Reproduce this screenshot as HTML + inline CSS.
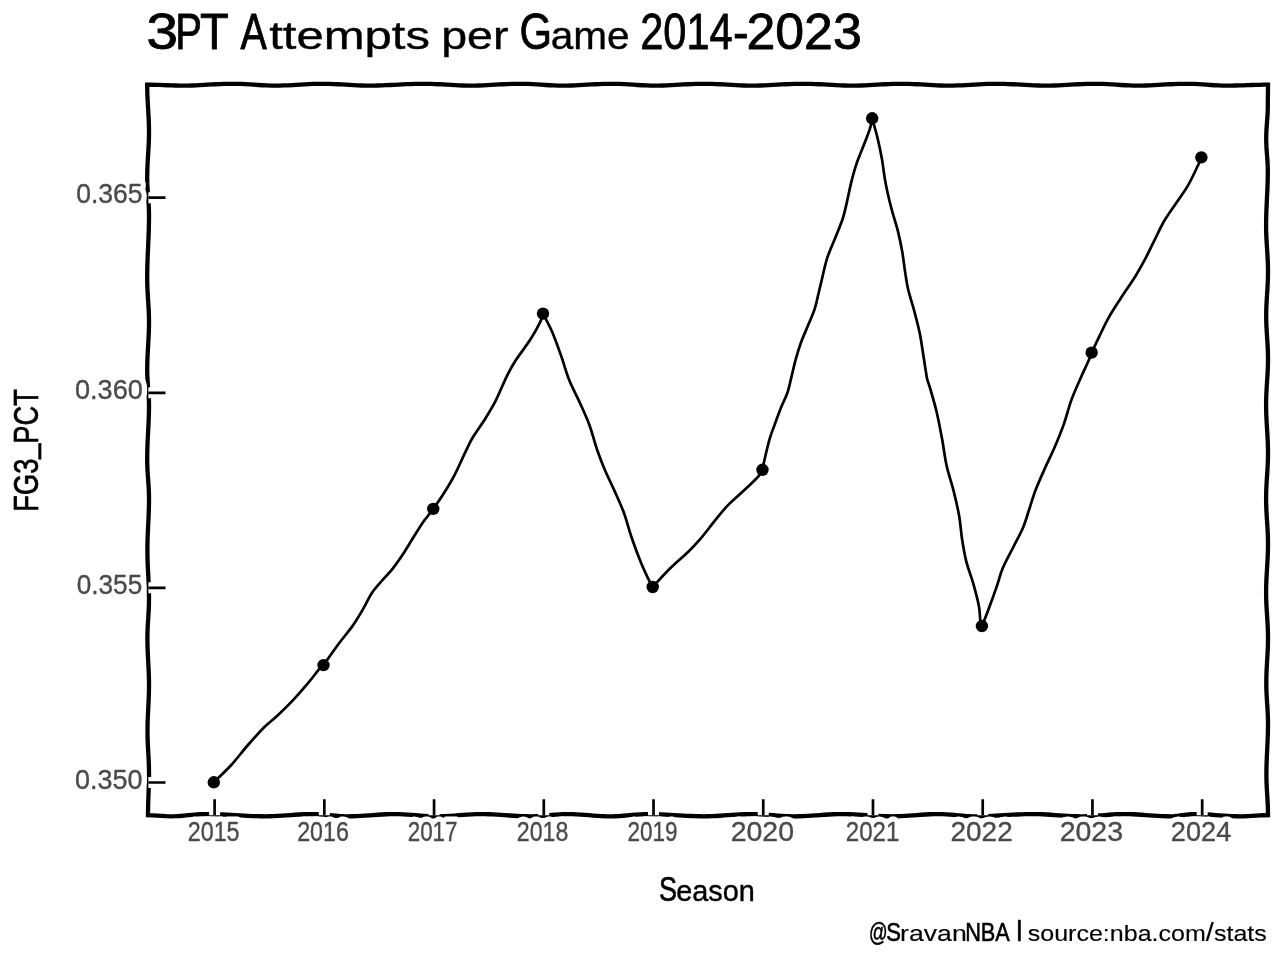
<!DOCTYPE html>
<html><head><meta charset="utf-8"><title>3PT Attempts per Game 2014-2023</title>
<style>
html,body{margin:0;padding:0;background:#fff;width:1280px;height:960px;overflow:hidden}
svg{display:block;font-family:"Liberation Sans", sans-serif}
</style></head><body>
<svg width="1280" height="960" viewBox="0 0 1280 960">
<rect width="1280" height="960" fill="#fff"/>
<path d="M147.2,84.7 151.26,84.73 155.32,84.81 159.38,84.92 163.44,85.07 167.51,85.23 171.57,85.38 175.63,85.49 179.69,85.57 183.75,85.6 187.77,85.57 191.79,85.48 195.81,85.34 199.83,85.15 203.85,84.93 207.88,84.7 211.9,84.47 215.92,84.25 219.94,84.06 223.96,83.92 227.98,83.83 232,83.8 236.36,83.84 240.72,83.97 245.08,84.17 249.44,84.42 253.8,84.7 258.16,84.98 262.52,85.23 266.88,85.43 271.24,85.56 275.6,85.6 279.78,85.56 283.96,85.46 288.15,85.29 292.33,85.07 296.51,84.83 300.69,84.57 304.87,84.33 309.05,84.11 313.24,83.94 317.42,83.84 321.6,83.8 325.61,83.83 329.62,83.92 333.62,84.06 337.63,84.25 341.64,84.47 345.65,84.7 349.66,84.93 353.67,85.15 357.68,85.34 361.68,85.48 365.69,85.57 369.7,85.6 373.8,85.57 377.9,85.5 382,85.37 386.1,85.21 390.2,85.02 394.3,84.81 398.4,84.59 402.5,84.38 406.6,84.19 410.7,84.03 414.8,83.9 418.9,83.83 423,83.8 427,83.83 431,83.92 435,84.06 439,84.25 443,84.47 447,84.7 451,84.93 455,85.15 459,85.34 463,85.48 467,85.57 471,85.6 475.03,85.57 479.07,85.48 483.1,85.34 487.13,85.15 491.17,84.93 495.2,84.7 499.23,84.47 503.27,84.25 507.3,84.06 511.33,83.92 515.37,83.83 519.4,83.8 523.76,83.84 528.12,83.97 532.48,84.17 536.84,84.42 541.2,84.7 545.56,84.98 549.92,85.23 554.28,85.43 558.64,85.56 563,85.6 567.02,85.57 571.05,85.48 575.08,85.34 579.1,85.15 583.12,84.93 587.15,84.7 591.17,84.47 595.2,84.25 599.22,84.06 603.25,83.92 607.27,83.83 611.3,83.8 615.67,83.84 620.04,83.97 624.41,84.17 628.78,84.42 633.15,84.7 637.52,84.98 641.89,85.23 646.26,85.43 650.63,85.56 655,85.6 659.08,85.57 663.17,85.48 667.25,85.34 671.33,85.15 675.42,84.93 679.5,84.7 683.58,84.47 687.67,84.25 691.75,84.06 695.83,83.92 699.92,83.83 704,83.8 708,83.83 712,83.92 716,84.06 720,84.25 724,84.47 728,84.7 732,84.93 736,85.15 740,85.34 744,85.48 748,85.57 752,85.6 756.21,85.57 760.42,85.48 764.62,85.34 768.83,85.15 773.04,84.93 777.25,84.7 781.46,84.47 785.67,84.25 789.88,84.06 794.08,83.92 798.29,83.83 802.5,83.8 806.71,83.83 810.92,83.92 815.12,84.06 819.33,84.25 823.54,84.47 827.75,84.7 831.96,84.93 836.17,85.15 840.38,85.34 844.58,85.48 848.79,85.57 853,85.6 857,85.57 861,85.48 865,85.34 869,85.15 873,84.93 877,84.7 881,84.47 885,84.25 889,84.06 893,83.92 897,83.83 901,83.8 905,83.83 909,83.92 913,84.06 917,84.25 921,84.47 925,84.7 929,84.93 933,85.15 937,85.34 941,85.48 945,85.57 949,85.6 953.25,85.56 957.49,85.46 961.74,85.29 965.98,85.07 970.23,84.83 974.47,84.57 978.72,84.33 982.96,84.11 987.21,83.94 991.45,83.84 995.7,83.8 999.93,83.83 1004.17,83.92 1008.4,84.06 1012.63,84.25 1016.87,84.47 1021.1,84.7 1025.33,84.93 1029.57,85.15 1033.8,85.34 1038.03,85.48 1042.27,85.57 1046.5,85.6 1050.52,85.57 1054.53,85.48 1058.55,85.34 1062.57,85.15 1066.58,84.93 1070.6,84.7 1074.62,84.47 1078.63,84.25 1082.65,84.06 1086.67,83.92 1090.68,83.83 1094.7,83.8 1099.03,83.84 1103.36,83.97 1107.69,84.17 1112.02,84.42 1116.35,84.7 1120.68,84.98 1125.01,85.23 1129.34,85.43 1133.67,85.56 1138,85.6 1142,85.57 1146,85.48 1150,85.34 1154,85.15 1158,84.93 1162,84.7 1166,84.47 1170,84.25 1174,84.06 1178,83.92 1182,83.83 1186,83.8 1190.1,83.84 1194.2,83.97 1198.3,84.17 1202.4,84.42 1206.5,84.7 1210.6,84.98 1214.7,85.23 1218.8,85.43 1222.9,85.56 1227,85.6 1231.1,85.58 1235.2,85.51 1239.3,85.41 1243.4,85.29 1247.5,85.15 1251.6,85.01 1255.7,84.89 1259.8,84.79 1263.9,84.72 1268,84.7 L1267.98,88.96 1267.93,93.22 1267.87,97.48 1267.82,101.74 1267.8,106 1267.74,110.08 1267.57,114.15 1267.31,118.22 1267,122.3 1266.69,126.38 1266.43,130.45 1266.26,134.53 1266.2,138.6 1266.26,142.65 1266.43,146.7 1266.69,150.75 1267,154.8 1267.31,158.85 1267.57,162.9 1267.74,166.95 1267.8,171 1267.78,175.23 1267.7,179.46 1267.59,183.69 1267.43,187.92 1267.25,192.15 1267.05,196.38 1266.85,200.62 1266.65,204.85 1266.47,209.08 1266.31,213.31 1266.2,217.54 1266.12,221.77 1266.1,226 1266.14,230.15 1266.25,234.29 1266.43,238.44 1266.66,242.58 1266.91,246.73 1267.19,250.87 1267.44,255.02 1267.67,259.16 1267.85,263.31 1267.96,267.45 1268,271.6 1267.96,275.64 1267.86,279.67 1267.69,283.71 1267.47,287.75 1267.23,291.78 1266.97,295.82 1266.73,299.85 1266.51,303.89 1266.34,307.93 1266.24,311.96 1266.2,316 1266.24,320.3 1266.37,324.6 1266.57,328.9 1266.82,333.2 1267.1,337.5 1267.38,341.8 1267.63,346.1 1267.83,350.4 1267.96,354.7 1268,359 1267.96,363.15 1267.85,367.29 1267.67,371.44 1267.44,375.58 1267.19,379.73 1266.91,383.87 1266.66,388.02 1266.43,392.16 1266.25,396.31 1266.14,400.45 1266.1,404.6 1266.13,408.63 1266.23,412.67 1266.38,416.7 1266.57,420.73 1266.8,424.77 1267.05,428.8 1267.3,432.83 1267.52,436.87 1267.72,440.9 1267.87,444.93 1267.97,448.97 1268,453 1267.96,457.15 1267.85,461.29 1267.67,465.44 1267.44,469.58 1267.19,473.73 1266.91,477.87 1266.66,482.02 1266.43,486.16 1266.25,490.31 1266.14,494.45 1266.1,498.6 1266.14,502.73 1266.25,506.85 1266.43,510.98 1266.66,515.11 1266.91,519.24 1267.19,523.36 1267.44,527.49 1267.67,531.62 1267.85,535.75 1267.96,539.87 1268,544 1267.97,548.05 1267.87,552.1 1267.72,556.15 1267.53,560.2 1267.3,564.25 1267.05,568.3 1266.8,572.35 1266.58,576.4 1266.38,580.45 1266.23,584.5 1266.13,588.55 1266.1,592.6 1266.14,596.73 1266.25,600.85 1266.43,604.98 1266.66,609.11 1266.91,613.24 1267.19,617.36 1267.44,621.49 1267.67,625.62 1267.85,629.75 1267.96,633.87 1268,638 1267.97,642.09 1267.87,646.18 1267.71,650.27 1267.5,654.36 1267.27,658.45 1267.03,662.55 1266.8,666.64 1266.59,670.73 1266.43,674.82 1266.33,678.91 1266.3,683 1266.34,687.08 1266.46,691.15 1266.65,695.23 1266.89,699.3 1267.15,703.38 1267.41,707.45 1267.65,711.52 1267.84,715.6 1267.96,719.67 1268,723.75 1267.97,728 1267.89,732.26 1267.77,736.51 1267.6,740.77 1267.41,745.02 1267.2,749.27 1266.99,753.53 1266.8,757.78 1266.63,762.04 1266.51,766.29 1266.43,770.55 1266.4,774.8 1266.44,778.84 1266.55,782.88 1266.73,786.92 1266.95,790.96 1267.2,795 1267.45,799.04 1267.67,803.08 1267.85,807.12 1267.96,811.16 1268,815.2 L1264,815.25 1260,815.41 1256,815.63 1252,815.87 1248,816.09 1244,816.25 1240,816.3 1235.91,816.26 1231.82,816.13 1227.73,815.92 1223.64,815.66 1219.55,815.36 1215.45,815.04 1211.36,814.74 1207.27,814.48 1203.18,814.27 1199.09,814.14 1195,814.1 1190.83,814.25 1186.67,814.65 1182.5,815.2 1178.33,815.75 1174.17,816.15 1170,816.3 1165.91,816.26 1161.82,816.13 1157.73,815.92 1153.64,815.66 1149.55,815.36 1145.45,815.04 1141.36,814.74 1137.27,814.48 1133.18,814.27 1129.09,814.14 1125,814.1 1120.96,814.14 1116.93,814.27 1112.89,814.48 1108.85,814.74 1104.82,815.04 1100.78,815.36 1096.75,815.66 1092.71,815.92 1088.67,816.13 1084.64,816.26 1080.6,816.3 1076.34,816.26 1072.08,816.13 1067.82,815.92 1063.56,815.66 1059.3,815.36 1055.05,815.04 1050.79,814.74 1046.53,814.48 1042.27,814.27 1038.01,814.14 1033.75,814.1 1029.55,814.13 1025.36,814.21 1021.16,814.34 1016.96,814.51 1012.77,814.72 1008.57,814.96 1004.38,815.2 1000.18,815.44 995.98,815.68 991.79,815.89 987.59,816.06 983.39,816.19 979.2,816.27 975,816.3 970.89,816.23 966.78,816.04 962.67,815.75 958.56,815.39 954.44,815.01 950.33,814.65 946.22,814.36 942.11,814.17 938,814.1 933.82,814.14 929.64,814.27 925.45,814.48 921.27,814.74 917.09,815.04 912.91,815.36 908.73,815.66 904.55,815.92 900.36,816.13 896.18,816.26 892,816.3 887.8,816.26 883.6,816.15 879.4,815.98 875.2,815.75 871,815.48 866.8,815.2 862.6,814.92 858.4,814.65 854.2,814.42 850,814.25 845.8,814.14 841.6,814.1 837.34,814.14 833.07,814.27 828.81,814.48 824.55,814.74 820.28,815.04 816.02,815.36 811.75,815.66 807.49,815.92 803.23,816.13 798.96,816.26 794.7,816.3 790.43,816.25 786.16,816.09 781.89,815.85 777.62,815.54 773.35,815.2 769.08,814.86 764.81,814.55 760.54,814.31 756.27,814.15 752,814.1 748,814.14 744,814.25 740,814.42 736,814.65 732,814.92 728,815.2 724,815.48 720,815.75 716,815.98 712,816.15 708,816.26 704,816.3 699.77,816.27 695.54,816.17 691.31,816.02 687.08,815.82 682.85,815.59 678.62,815.33 674.38,815.07 670.15,814.81 665.92,814.58 661.69,814.38 657.46,814.23 653.23,814.13 649,814.1 644.67,814.17 640.33,814.36 636,814.65 631.67,815.01 627.33,815.39 623,815.75 618.67,816.04 614.33,816.23 610,816.3 605.8,816.25 601.6,816.09 597.4,815.85 593.2,815.54 589,815.2 584.8,814.86 580.6,814.55 576.4,814.31 572.2,814.15 568,814.1 563.78,814.17 559.56,814.36 555.33,814.65 551.11,815.01 546.89,815.39 542.67,815.75 538.44,816.04 534.22,816.23 530,816.3 525.88,816.26 521.77,816.15 517.65,815.98 513.53,815.75 509.42,815.48 505.3,815.2 501.18,814.92 497.07,814.65 492.95,814.42 488.83,814.25 484.72,814.14 480.6,814.1 476.24,814.15 471.88,814.31 467.52,814.55 463.16,814.86 458.8,815.2 454.44,815.54 450.08,815.85 445.72,816.09 441.36,816.25 437,816.3 432.77,816.25 428.54,816.09 424.31,815.85 420.08,815.54 415.85,815.2 411.62,814.86 407.39,814.55 403.16,814.31 398.93,814.15 394.7,814.1 390.45,814.14 386.21,814.27 381.96,814.48 377.72,814.74 373.47,815.04 369.23,815.36 364.98,815.66 360.74,815.92 356.49,816.13 352.25,816.26 348,816.3 344,816.23 340,816.04 336,815.75 332,815.39 328,815.01 324,814.65 320,814.36 316,814.17 312,814.1 307.73,814.14 303.45,814.27 299.18,814.48 294.91,814.74 290.64,815.04 286.36,815.36 282.09,815.66 277.82,815.92 273.55,816.13 269.27,816.26 265,816.3 260.76,816.27 256.51,816.19 252.27,816.06 248.03,815.89 243.79,815.68 239.54,815.44 235.3,815.2 231.06,814.96 226.81,814.72 222.57,814.51 218.33,814.34 214.09,814.21 209.84,814.13 205.6,814.1 201.28,814.18 196.95,814.42 192.62,814.78 188.3,815.2 183.97,815.62 179.65,815.98 175.32,816.22 171,816.3 166.4,816.19 161.8,815.92 157.2,815.58 152.6,815.31 148,815.2 L148.02,810.98 148.1,806.76 148.21,802.54 148.35,798.32 148.5,794.1 148.65,789.88 148.79,785.66 148.9,781.44 148.98,777.22 149,773 148.96,768.8 148.86,764.6 148.69,760.4 148.48,756.2 148.25,752 148.02,747.8 147.81,743.6 147.64,739.4 147.54,735.2 147.5,731 147.53,726.82 147.62,722.64 147.76,718.45 147.94,714.27 148.14,710.09 148.36,705.91 148.56,701.73 148.74,697.55 148.88,693.36 148.97,689.18 149,685 148.97,680.73 148.87,676.45 148.72,672.18 148.53,667.91 148.31,663.64 148.09,659.36 147.87,655.09 147.68,650.82 147.53,646.55 147.43,642.27 147.4,638 147.45,633.67 147.59,629.33 147.8,625 148.06,620.67 148.34,616.33 148.6,612 148.81,607.67 148.95,603.33 149,599 148.97,594.92 148.89,590.83 148.77,586.75 148.6,582.67 148.41,578.58 148.2,574.5 147.99,570.42 147.8,566.33 147.63,562.25 147.51,558.17 147.43,554.08 147.4,550 147.43,545.75 147.51,541.5 147.63,537.25 147.8,533 147.99,528.75 148.2,524.5 148.41,520.25 148.6,516 148.77,511.75 148.89,507.5 148.97,503.25 149,499 148.96,495 148.83,491 148.63,487 148.38,483 148.1,479 147.82,475 147.57,471 147.37,467 147.24,463 147.2,459 147.23,454.85 147.3,450.69 147.43,446.54 147.59,442.38 147.78,438.23 147.99,434.08 148.21,429.92 148.42,425.77 148.61,421.62 148.77,417.46 148.9,413.31 148.97,409.15 149,405 148.93,400.62 148.74,396.25 148.44,391.88 148.1,387.5 147.76,383.12 147.46,378.75 147.27,374.38 147.2,370 147.23,366 147.32,362 147.46,358 147.65,354 147.87,350 148.1,346 148.33,342 148.55,338 148.74,334 148.88,330 148.97,326 149,322 148.96,318 148.86,314 148.69,310 148.47,306 148.23,302 147.97,298 147.73,294 147.51,290 147.34,286 147.24,282 147.2,278 147.22,273.8 147.28,269.6 147.37,265.4 147.5,261.2 147.65,257 147.82,252.8 148.01,248.6 148.19,244.4 148.38,240.2 148.55,236 148.7,231.8 148.83,227.6 148.92,223.4 148.98,219.2 149,215 148.95,210.89 148.79,206.78 148.55,202.67 148.26,198.56 147.94,194.44 147.65,190.33 147.41,186.22 147.25,182.11 147.2,178 147.24,173.82 147.34,169.64 147.51,165.45 147.73,161.27 147.97,157.09 148.23,152.91 148.47,148.73 148.69,144.55 148.86,140.36 148.96,136.18 149,132 148.96,127.7 148.86,123.4 148.69,119.1 148.47,114.8 148.23,110.5 147.97,106.2 147.73,101.9 147.51,97.6 147.34,93.3 147.24,89 147.2,84.7 Z" fill="none" stroke="#000" stroke-width="4.3" stroke-linejoin="miter"/>
<path d="M148.4,782.5 H165.5 M148.4,587.8 H165.5 M148.4,392.8 H165.5 M148.4,197.7 H165.5 M214.6,815.2 V799.3 M324.33,815.2 V799.3 M434.06,815.2 V799.3 M543.79,815.2 V799.3 M653.52,815.2 V799.3 M763.25,815.2 V799.3 M872.98,815.2 V799.3 M982.71,815.2 V799.3 M1092.44,815.2 V799.3 M1202.17,815.2 V799.3" fill="none" stroke="#fff" stroke-width="11" stroke-linecap="butt"/>
<path d="M148.4,782.5 H165.5 M148.4,587.8 H165.5 M148.4,392.8 H165.5 M148.4,197.7 H165.5 M214.6,815.2 V799.3 M324.33,815.2 V799.3 M434.06,815.2 V799.3 M543.79,815.2 V799.3 M653.52,815.2 V799.3 M763.25,815.2 V799.3 M872.98,815.2 V799.3 M982.71,815.2 V799.3 M1092.44,815.2 V799.3 M1202.17,815.2 V799.3" fill="none" stroke="#000" stroke-width="2.7" stroke-linecap="butt"/>
<path d="M213.8,782.3 C216.71,779.42 225.73,771.01 231.25,765 C236.77,758.99 241.69,752.25 246.9,746.25 C252.11,740.25 257.3,734.21 262.5,729 C267.7,723.79 272.89,719.93 278.1,715 C283.31,710.07 288.53,705 293.75,699.4 C298.97,693.8 305.23,686.35 309.4,681.4 C313.57,676.45 316.4,672.42 318.75,669.7 C321.1,666.98 322.71,665.87 323.5,665.1 C326.07,661.5 334.08,650 338.9,643.5 C343.72,637 348.53,631.57 352.4,626.1 C356.27,620.63 358.88,616.17 362.1,610.7 C365.32,605.23 368.82,597.8 371.7,593.3 C374.58,588.8 375.87,587.87 379.4,583.7 C382.93,579.53 389.03,573.12 392.9,568.3 C396.77,563.48 399.38,559.63 402.6,554.8 C405.82,549.97 409,544.45 412.2,539.3 C415.4,534.15 419.23,527.75 421.8,523.9 C424.37,520.05 425.7,518.7 427.6,516.2 C429.5,513.7 432.27,510.12 433.2,508.9 C434.82,506.55 439.37,500.4 442.9,494.8 C446.43,489.2 450.58,482.57 454.4,475.3 C458.22,468.03 462.75,457.5 465.8,451.2 C468.85,444.9 469.63,442.65 472.7,437.5 C475.77,432.35 480.38,426.42 484.2,420.3 C488.02,414.18 491.78,408.25 495.6,400.8 C499.42,393.35 503.67,382.47 507.1,375.6 C510.53,368.73 512.38,365.52 516.2,359.6 C520.02,353.68 525.98,346.4 530,340.1 C534.02,333.8 538.15,326.22 540.3,321.8 C542.45,317.38 542.47,314.97 542.9,313.6 C544.4,316.55 548.83,324.18 551.9,331.3 C554.97,338.42 558.43,348.23 561.3,356.3 C564.17,364.37 565.98,371.9 569.1,379.7 C572.22,387.5 576.62,395.55 580,403.1 C583.38,410.65 586.53,417.18 589.4,425 C592.27,432.82 594.6,442.45 597.2,450 C599.8,457.55 602.13,463.53 605,470.3 C607.87,477.07 611.27,483.57 614.4,490.6 C617.53,497.63 620.93,504.68 623.8,512.5 C626.67,520.32 628.75,529.17 631.6,537.5 C634.45,545.83 638.04,555.47 640.9,562.5 C643.76,569.53 646.78,575.62 648.75,579.7 C650.72,583.78 652.04,585.78 652.7,587 C655.62,583.88 664.27,574.18 670.2,568.3 C676.13,562.42 683.27,556.62 688.3,551.7 C693.33,546.78 696.87,542.83 700.4,538.8 C703.93,534.77 706.48,531.27 709.5,527.5 C712.52,523.73 715.48,519.85 718.5,516.2 C721.52,512.55 724.07,509.25 727.6,505.6 C731.13,501.95 735.92,497.82 739.7,494.3 C743.48,490.78 747.15,487.53 750.3,484.5 C753.45,481.47 756.58,478.55 758.6,476.1 C760.62,473.65 761.77,470.85 762.4,469.8 C762.93,467.33 764.37,460.25 765.6,455 C766.83,449.75 768.23,443.51 769.8,438.3 C771.37,433.09 773.09,428.95 775,423.75 C776.91,418.55 779.17,412.31 781.25,407.1 C783.33,401.89 785.76,397.72 787.5,392.5 C789.24,387.28 790.32,381.35 791.7,375.8 C793.08,370.25 794.25,364.75 795.8,359.2 C797.35,353.65 798.92,348.23 801,342.5 C803.08,336.77 806.03,330.35 808.3,324.8 C810.57,319.25 812.86,314.58 814.6,309.2 C816.34,303.82 817.53,297.5 818.75,292.5 C819.97,287.5 820.51,284.9 821.9,279.2 C823.29,273.5 824.85,265.25 827.1,258.3 C829.35,251.35 832.8,244.09 835.4,237.5 C838,230.91 840.78,224.65 842.7,218.75 C844.62,212.85 845.52,208.01 846.9,202.1 C848.28,196.19 849.44,189.55 851,183.3 C852.56,177.05 854.17,170.85 856.25,164.6 C858.33,158.35 861.24,151.7 863.5,145.8 C865.76,139.9 868.35,133.78 869.8,129.2 C871.25,124.62 871.8,120.12 872.2,118.3 C873.08,121.57 875.9,131.23 877.5,137.9 C879.1,144.57 880.58,151.52 881.8,158.3 C883.02,165.08 883.82,172.78 884.8,178.6 C885.78,184.42 886.5,187.85 887.7,193.2 C888.9,198.55 890.3,204.38 892,210.7 C893.7,217.02 896.2,224.3 897.9,231.1 C899.6,237.9 901,244.7 902.2,251.5 C903.4,258.3 904.12,265.6 905.1,271.9 C906.08,278.2 906.63,283 908.1,289.3 C909.57,295.6 911.97,302.42 913.9,309.7 C915.83,316.98 918.1,325.23 919.7,333 C921.3,340.77 922.28,348.77 923.5,356.3 C924.72,363.83 925.97,373.1 927,378.2 C928.03,383.3 928.08,381.23 929.7,386.9 C931.32,392.57 934.6,403.3 936.7,412.2 C938.8,421.1 940.65,431.4 942.3,440.3 C943.95,449.2 944.72,457.17 946.6,465.6 C948.48,474.03 951.5,482.47 953.6,490.9 C955.7,499.33 957.8,508.23 959.2,516.2 C960.6,524.17 960.83,531.2 962,538.7 C963.17,546.2 964.32,553.7 966.2,561.2 C968.08,568.7 971.18,576.2 973.3,583.7 C975.42,591.2 977.73,600.1 978.9,606.2 C980.07,612.3 979.78,616.98 980.3,620.3 C980.82,623.62 981.72,625.13 982,626.1 C983.12,623.21 986.32,615.28 988.75,608.75 C991.18,602.22 994.26,593.67 996.6,586.9 C998.94,580.12 999.94,574.88 1002.8,568.1 C1005.66,561.33 1010.37,553.02 1013.75,546.25 C1017.13,539.48 1020.49,533.75 1023.1,527.5 C1025.71,521.25 1027.32,515 1029.4,508.75 C1031.48,502.5 1033,496.77 1035.6,490 C1038.2,483.23 1041.87,475.13 1045,468.1 C1048.13,461.07 1051.28,455.08 1054.4,447.8 C1057.53,440.52 1060.88,432.47 1063.75,424.4 C1066.62,416.33 1068.74,407.22 1071.6,399.4 C1074.46,391.58 1078.04,384.02 1080.9,377.5 C1083.76,370.98 1086.95,364.45 1088.75,360.3 C1090.55,356.15 1091.21,353.88 1091.7,352.6 C1092.95,349.93 1096.35,342.47 1099.2,336.6 C1102.05,330.73 1105.2,323.8 1108.8,317.4 C1112.4,311 1116.42,304.98 1120.8,298.2 C1125.18,291.42 1131.12,283.08 1135.1,276.7 C1139.08,270.32 1141.5,265.9 1144.7,259.9 C1147.9,253.9 1151.1,247.1 1154.3,240.7 C1157.5,234.3 1160.3,227.7 1163.9,221.5 C1167.5,215.3 1171.9,209.48 1175.9,203.5 C1179.9,197.52 1184.3,191.78 1187.9,185.6 C1191.5,179.42 1195.25,171.12 1197.5,166.4 C1199.75,161.68 1200.75,158.82 1201.4,157.3" fill="none" stroke="#000" stroke-width="2.7" stroke-linejoin="round"/>
<circle cx="213.8" cy="782.3" r="6.2" fill="#000"/>
<circle cx="323.53" cy="665.12" r="6.2" fill="#000"/>
<circle cx="433.26" cy="508.88" r="6.2" fill="#000"/>
<circle cx="542.99" cy="313.58" r="6.2" fill="#000"/>
<circle cx="652.72" cy="587" r="6.2" fill="#000"/>
<circle cx="762.45" cy="469.82" r="6.2" fill="#000"/>
<circle cx="872.18" cy="118.28" r="6.2" fill="#000"/>
<circle cx="981.91" cy="626.06" r="6.2" fill="#000"/>
<circle cx="1091.64" cy="352.64" r="6.2" fill="#000"/>
<circle cx="1201.37" cy="157.34" r="6.2" fill="#000"/>
<text x="74.97" y="788.95" font-size="27.49" textLength="67.5" lengthAdjust="spacingAndGlyphs" fill="#fff" stroke="#fff" stroke-width="11" stroke-linejoin="round">0.350</text>
<text x="74.97" y="788.95" font-size="27.49" textLength="67.5" lengthAdjust="spacingAndGlyphs" fill="#4a4a4a" stroke="#4a4a4a" stroke-width="0.35" stroke-linejoin="round">0.350</text>
<text x="76.72" y="594.04" font-size="28.06" textLength="65.47" lengthAdjust="spacingAndGlyphs" fill="#fff" stroke="#fff" stroke-width="11" stroke-linejoin="round">0.355</text>
<text x="76.72" y="594.04" font-size="28.06" textLength="65.47" lengthAdjust="spacingAndGlyphs" fill="#4a4a4a" stroke="#4a4a4a" stroke-width="0.35" stroke-linejoin="round">0.355</text>
<text x="74.97" y="398.75" font-size="27.63" textLength="67.86" lengthAdjust="spacingAndGlyphs" fill="#fff" stroke="#fff" stroke-width="11" stroke-linejoin="round">0.360</text>
<text x="74.97" y="398.75" font-size="27.63" textLength="67.86" lengthAdjust="spacingAndGlyphs" fill="#4a4a4a" stroke="#4a4a4a" stroke-width="0.35" stroke-linejoin="round">0.360</text>
<text x="76.18" y="203.25" font-size="27.21" textLength="66.4" lengthAdjust="spacingAndGlyphs" fill="#fff" stroke="#fff" stroke-width="11" stroke-linejoin="round">0.365</text>
<text x="76.18" y="203.25" font-size="27.21" textLength="66.4" lengthAdjust="spacingAndGlyphs" fill="#4a4a4a" stroke="#4a4a4a" stroke-width="0.35" stroke-linejoin="round">0.365</text>
<text x="187.73" y="840.64" font-size="28.06" textLength="51.86" lengthAdjust="spacingAndGlyphs" fill="#fff" stroke="#fff" stroke-width="11" stroke-linejoin="round">2015</text>
<text x="187.73" y="840.64" font-size="28.06" textLength="51.86" lengthAdjust="spacingAndGlyphs" fill="#4a4a4a" stroke="#4a4a4a" stroke-width="0.35" stroke-linejoin="round">2015</text>
<text x="297.13" y="840.64" font-size="28.06" textLength="51.76" lengthAdjust="spacingAndGlyphs" fill="#fff" stroke="#fff" stroke-width="11" stroke-linejoin="round">2016</text>
<text x="297.13" y="840.64" font-size="28.06" textLength="51.76" lengthAdjust="spacingAndGlyphs" fill="#4a4a4a" stroke="#4a4a4a" stroke-width="0.35" stroke-linejoin="round">2016</text>
<text x="407.67" y="840.64" font-size="28.06" textLength="49.88" lengthAdjust="spacingAndGlyphs" fill="#fff" stroke="#fff" stroke-width="11" stroke-linejoin="round">2017</text>
<text x="407.67" y="840.64" font-size="28.06" textLength="49.88" lengthAdjust="spacingAndGlyphs" fill="#4a4a4a" stroke="#4a4a4a" stroke-width="0.35" stroke-linejoin="round">2017</text>
<text x="516.84" y="840.64" font-size="28.06" textLength="51.55" lengthAdjust="spacingAndGlyphs" fill="#fff" stroke="#fff" stroke-width="11" stroke-linejoin="round">2018</text>
<text x="516.84" y="840.64" font-size="28.06" textLength="51.55" lengthAdjust="spacingAndGlyphs" fill="#4a4a4a" stroke="#4a4a4a" stroke-width="0.35" stroke-linejoin="round">2018</text>
<text x="627.47" y="840.64" font-size="28.06" textLength="50.2" lengthAdjust="spacingAndGlyphs" fill="#fff" stroke="#fff" stroke-width="11" stroke-linejoin="round">2019</text>
<text x="627.47" y="840.64" font-size="28.06" textLength="50.2" lengthAdjust="spacingAndGlyphs" fill="#4a4a4a" stroke="#4a4a4a" stroke-width="0.35" stroke-linejoin="round">2019</text>
<text x="730.68" y="840.64" font-size="28.06" textLength="63.3" lengthAdjust="spacingAndGlyphs" fill="#fff" stroke="#fff" stroke-width="11" stroke-linejoin="round">2020</text>
<text x="730.68" y="840.64" font-size="28.06" textLength="63.3" lengthAdjust="spacingAndGlyphs" fill="#4a4a4a" stroke="#4a4a4a" stroke-width="0.35" stroke-linejoin="round">2020</text>
<text x="845.79" y="840.64" font-size="28.06" textLength="53.54" lengthAdjust="spacingAndGlyphs" fill="#fff" stroke="#fff" stroke-width="11" stroke-linejoin="round">2021</text>
<text x="845.79" y="840.64" font-size="28.06" textLength="53.54" lengthAdjust="spacingAndGlyphs" fill="#4a4a4a" stroke="#4a4a4a" stroke-width="0.35" stroke-linejoin="round">2021</text>
<text x="950.5" y="840.64" font-size="28.06" textLength="62.24" lengthAdjust="spacingAndGlyphs" fill="#fff" stroke="#fff" stroke-width="11" stroke-linejoin="round">2022</text>
<text x="950.5" y="840.64" font-size="28.06" textLength="62.24" lengthAdjust="spacingAndGlyphs" fill="#4a4a4a" stroke="#4a4a4a" stroke-width="0.35" stroke-linejoin="round">2022</text>
<text x="1059.67" y="840.64" font-size="28.06" textLength="63.44" lengthAdjust="spacingAndGlyphs" fill="#fff" stroke="#fff" stroke-width="11" stroke-linejoin="round">2023</text>
<text x="1059.67" y="840.64" font-size="28.06" textLength="63.44" lengthAdjust="spacingAndGlyphs" fill="#4a4a4a" stroke="#4a4a4a" stroke-width="0.35" stroke-linejoin="round">2023</text>
<text x="1170.84" y="840.64" font-size="28.06" textLength="60.45" lengthAdjust="spacingAndGlyphs" fill="#fff" stroke="#fff" stroke-width="11" stroke-linejoin="round">2024</text>
<text x="1170.84" y="840.64" font-size="28.06" textLength="60.45" lengthAdjust="spacingAndGlyphs" fill="#4a4a4a" stroke="#4a4a4a" stroke-width="0.35" stroke-linejoin="round">2024</text>
<text x="146.48" y="48.6" font-size="50.0" textLength="31.5" lengthAdjust="spacingAndGlyphs" fill="#000" stroke="#000" stroke-width="0.8" stroke-linejoin="round">3</text>
<text x="175.2" y="48.6" font-size="50.0" textLength="26.68" lengthAdjust="spacingAndGlyphs" fill="#000" stroke="#000" stroke-width="0.8" stroke-linejoin="round">P</text>
<text x="199.94" y="48.6" font-size="50.0" textLength="28.76" lengthAdjust="spacingAndGlyphs" fill="#000" stroke="#000" stroke-width="0.8" stroke-linejoin="round">T</text>
<text x="240.5" y="48.6" font-size="50.0" textLength="26.28" lengthAdjust="spacingAndGlyphs" fill="#000" stroke="#000" stroke-width="0.8" stroke-linejoin="round">A</text>
<text x="269.18" y="48.83" font-size="38.8" textLength="160.85" lengthAdjust="spacingAndGlyphs" fill="#000" stroke="#000" stroke-width="0.35" stroke-linejoin="round">ttempts</text>
<text x="441.18" y="48.83" font-size="38.8" textLength="67.21" lengthAdjust="spacingAndGlyphs" fill="#000" stroke="#000" stroke-width="0.35" stroke-linejoin="round">per</text>
<text x="519.61" y="48.6" font-size="50.0" textLength="32.54" lengthAdjust="spacingAndGlyphs" fill="#000" stroke="#000" stroke-width="0.8" stroke-linejoin="round">G</text>
<text x="550.67" y="48.83" font-size="38.8" textLength="78.96" lengthAdjust="spacingAndGlyphs" fill="#000" stroke="#000" stroke-width="0.35" stroke-linejoin="round">ame</text>
<text x="640.22" y="48.6" font-size="50.0" textLength="92.51" lengthAdjust="spacingAndGlyphs" fill="#000" stroke="#000" stroke-width="0.8" stroke-linejoin="round">2014</text>
<text x="732.98" y="48.6" font-size="50.0" textLength="15.65" lengthAdjust="spacingAndGlyphs" fill="#000" stroke="#000" stroke-width="0.8" stroke-linejoin="round">-</text>
<text x="746.41" y="48.6" font-size="50.0" textLength="115.31" lengthAdjust="spacingAndGlyphs" fill="#000" stroke="#000" stroke-width="0.8" stroke-linejoin="round">2023</text>
<text x="658.97" y="901.25" font-size="34.3" textLength="18.04" lengthAdjust="spacingAndGlyphs" fill="#000" stroke="#000" stroke-width="0.7" stroke-linejoin="round">S</text>
<text x="676.18" y="901.4" font-size="29.5" textLength="78.66" lengthAdjust="spacingAndGlyphs" fill="#000" stroke="#000" stroke-width="0.4" stroke-linejoin="round">eason</text>
<text x="-1.83" y="0" transform="translate(37.85,509.8) rotate(-90)" font-size="34.3" textLength="122.41" lengthAdjust="spacingAndGlyphs" fill="#000" stroke="#000" stroke-width="0.7" stroke-linejoin="round">FG3<tspan dy="-3.5">_</tspan><tspan dy="3.5">PCT</tspan></text>
<text x="869.02" y="940.6" font-size="26.3" textLength="18.56" lengthAdjust="spacingAndGlyphs" fill="#000" stroke="#000" stroke-width="0.6" stroke-linejoin="round">@</text>
<text x="886.25" y="940.6" font-size="26.3" textLength="14.71" lengthAdjust="spacingAndGlyphs" fill="#000" stroke="#000" stroke-width="0.6" stroke-linejoin="round">S</text>
<text x="900.12" y="940.6" font-size="22.8" textLength="66.6" lengthAdjust="spacingAndGlyphs" fill="#000" stroke="#000" stroke-width="0.15" stroke-linejoin="round">ravan</text>
<text x="965.14" y="940.6" font-size="26.3" textLength="44.74" lengthAdjust="spacingAndGlyphs" fill="#000" stroke="#000" stroke-width="0.6" stroke-linejoin="round">NBA</text>
<text x="1015.95" y="936.1" font-size="21.2" textLength="6.62" lengthAdjust="spacingAndGlyphs" fill="#000" stroke="#000" stroke-width="0.6" stroke-linejoin="round">|</text>
<text x="1027.69" y="940.6" font-size="22.8" textLength="239.14" lengthAdjust="spacingAndGlyphs" fill="#000" stroke="#000" stroke-width="0.15" stroke-linejoin="round">source:nba.com<tspan font-size="26.3">/</tspan>stats</text>
</svg>
</body></html>
